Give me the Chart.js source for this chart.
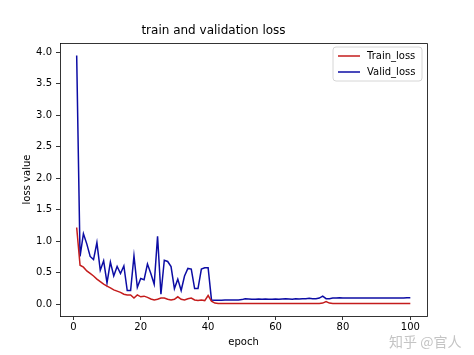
<!DOCTYPE html>
<html><head><meta charset="utf-8">
<script src="https://cdn.jsdelivr.net/npm/chart.js@4"></script>
<style>html,body{margin:0;padding:0;background:#fff;}#wrap{width:474px;height:355px;position:relative;}</style>
</head><body><div id="wrap"><canvas id="c" width="474" height="355"></canvas></div>
<script>
const epochs = Array.from({length: 100}, (_, i) => i + 1);
const trainLoss = [
  1.22, 0.62, 0.59, 0.53, 0.49, 0.45, 0.40, 0.36, 0.32, 0.29,
  0.26, 0.23, 0.21, 0.19, 0.16, 0.15, 0.15, 0.10, 0.15, 0.12,
  0.13, 0.11, 0.085, 0.07, 0.08, 0.10, 0.10, 0.08, 0.07, 0.08,
  0.12, 0.08, 0.07, 0.09, 0.10, 0.07, 0.06, 0.07, 0.06, 0.14,
  0.05, 0.02, 0.015, 0.015, 0.012, 0.012, 0.012, 0.012, 0.012, 0.012,
  0.012, 0.012, 0.012, 0.012, 0.012, 0.012, 0.012, 0.012, 0.012, 0.012,
  0.012, 0.012, 0.012, 0.012, 0.012, 0.012, 0.012, 0.012, 0.012, 0.012,
  0.012, 0.012, 0.015, 0.02, 0.045, 0.02, 0.012, 0.012, 0.012, 0.012,
  0.012, 0.012, 0.012, 0.012, 0.012, 0.012, 0.012, 0.012, 0.012, 0.012,
  0.012, 0.012, 0.012, 0.012, 0.012, 0.012, 0.012, 0.012, 0.012, 0.012
];
const validLoss = [
  3.95, 0.76, 1.12, 0.96, 0.76, 0.71, 0.98, 0.54, 0.69, 0.34,
  0.67, 0.45, 0.60, 0.49, 0.61, 0.22, 0.22, 0.77, 0.27, 0.41,
  0.39, 0.64, 0.49, 0.32, 1.08, 0.16, 0.70, 0.68, 0.60, 0.25,
  0.40, 0.22, 0.45, 0.57, 0.56, 0.25, 0.25, 0.56, 0.58, 0.58,
  0.07, 0.065, 0.065, 0.065, 0.07, 0.07, 0.07, 0.07, 0.07, 0.075,
  0.09, 0.085, 0.08, 0.08, 0.085, 0.08, 0.085, 0.08, 0.08, 0.085,
  0.08, 0.085, 0.09, 0.085, 0.08, 0.09, 0.085, 0.09, 0.09, 0.095,
  0.09, 0.09, 0.10, 0.13, 0.09, 0.09, 0.10, 0.10, 0.105, 0.10,
  0.10, 0.10, 0.10, 0.10, 0.10, 0.10, 0.10, 0.10, 0.10, 0.10,
  0.10, 0.10, 0.10, 0.10, 0.10, 0.10, 0.10, 0.10, 0.105, 0.105
];
const xTicks = [0, 20, 40, 60, 80, 100];
const yTicks = [0.0, 0.5, 1.0, 1.5, 2.0, 2.5, 3.0, 3.5, 4.0];
const seriesNames = ['Train_loss', 'Valid_loss'];
const seriesColors = ['#c41c1c', '#0c0ca4'];

const FONT = 'DejaVu Sans';
const xPad = 0.05 * (epochs[epochs.length - 1] - epochs[0]);
const allVals = trainLoss.concat(validLoss);
const yLo = Math.min(...allVals), yHi = Math.max(...allVals);
const yPad = 0.05 * (yHi - yLo);

const extras = {
  id: 'extras',
  afterDraw(chart) {
    const ctx = chart.ctx, a = chart.chartArea;
    ctx.save();
    // top & right spines
    ctx.strokeStyle = '#000'; ctx.lineWidth = 0.8;
    ctx.beginPath();
    ctx.moveTo(a.left, a.top + 0.5); ctx.lineTo(a.right + 0.5, a.top + 0.5); ctx.lineTo(a.right + 0.5, a.bottom);
    ctx.stroke();
    // axis titles
    ctx.fillStyle = '#000';
    ctx.font = '10px "' + FONT + '"';
    ctx.textAlign = 'center'; ctx.textBaseline = 'middle';
    ctx.fillText('epoch', (a.left + a.right) / 2, 342);
    ctx.save();
    ctx.translate(27, (a.top + a.bottom) / 2);
    ctx.rotate(-Math.PI / 2);
    ctx.fillText('loss value', 0, 0);
    ctx.restore();
    // legend
    const lx = 333, ly = 47, lw = 89, lh = 34, r = 3;
    ctx.beginPath();
    ctx.moveTo(lx + r, ly); ctx.lineTo(lx + lw - r, ly); ctx.arcTo(lx + lw, ly, lx + lw, ly + r, r);
    ctx.lineTo(lx + lw, ly + lh - r); ctx.arcTo(lx + lw, ly + lh, lx + lw - r, ly + lh, r);
    ctx.lineTo(lx + r, ly + lh); ctx.arcTo(lx, ly + lh, lx, ly + lh - r, r);
    ctx.lineTo(lx, ly + r); ctx.arcTo(lx, ly, lx + r, ly, r);
    ctx.closePath();
    ctx.fillStyle = 'rgba(255,255,255,0.8)'; ctx.fill();
    ctx.strokeStyle = '#cccccc'; ctx.lineWidth = 0.8; ctx.stroke();
    chart.data.datasets.forEach((ds, i) => {
      const yy = 56 + i * 16;
      ctx.strokeStyle = ds.borderColor; ctx.lineWidth = 1.5;
      ctx.beginPath(); ctx.moveTo(338, yy); ctx.lineTo(360, yy); ctx.stroke();
      ctx.fillStyle = '#000'; ctx.textAlign = 'left'; ctx.textBaseline = 'middle';
      ctx.font = '10px "' + FONT + '"';
      ctx.fillText(ds.label, 367, yy);
    });
    // watermark
    ctx.fillStyle = 'rgba(190,190,190,0.9)';
    ctx.font = '14px "Noto Sans CJK SC"';
    ctx.textAlign = 'left'; ctx.textBaseline = 'middle';
    ctx.fillText('知乎 @官人', 389, 342);
    ctx.restore();
  }
};

new Chart(document.getElementById('c'), {
  type: 'line',
  data: {
    datasets: seriesNames.map((name, i) => ({
      label: name,
      data: epochs.map((e, j) => ({x: e, y: (i === 0 ? trainLoss : validLoss)[j]})),
      borderColor: seriesColors[i],
      backgroundColor: seriesColors[i],
      borderWidth: 1.5,
      pointRadius: 0,
      tension: 0,
      fill: false
    }))
  },
  options: {
    responsive: false,
    animation: false,
    devicePixelRatio: 1,
    layout: {padding: {left: 0, right: 47, top: 0, bottom: 0}},
    plugins: {
      legend: {display: false},
      tooltip: {enabled: false},
      title: {
        display: true, text: 'train and validation loss', color: '#000',
        font: {family: FONT, size: 12, weight: 'normal'},
        padding: {top: 24, bottom: 4.6}
      }
    },
    scales: {
      x: {
        type: 'linear',
        min: epochs[0] - xPad, max: epochs[epochs.length - 1] + xPad,
        afterBuildTicks: s => { s.ticks = xTicks.map(v => ({value: v})); },
        afterFit: s => { s.height = 39; },
        ticks: {color: '#000', font: {family: FONT, size: 10}, padding: 1, maxRotation: 0, autoSkip: false,
                callback: v => String(v)},
        grid: {drawOnChartArea: false, drawTicks: true, tickLength: 4, color: '#000', lineWidth: 0.8},
        border: {display: true, color: '#000', width: 0.8}
      },
      y: {
        type: 'linear',
        min: yLo - yPad, max: yHi + yPad,
        afterBuildTicks: s => { s.ticks = yTicks.map(v => ({value: v})); },
        afterFit: s => { s.width = 60; },
        ticks: {color: '#000', font: {family: FONT, size: 10}, padding: 4, autoSkip: false,
                callback: v => Number(v).toFixed(1)},
        grid: {drawOnChartArea: false, drawTicks: true, tickLength: 4, color: '#000', lineWidth: 0.8},
        border: {display: true, color: '#000', width: 0.8}
      }
    }
  },
  plugins: [extras]
});
</script>
</body></html>
